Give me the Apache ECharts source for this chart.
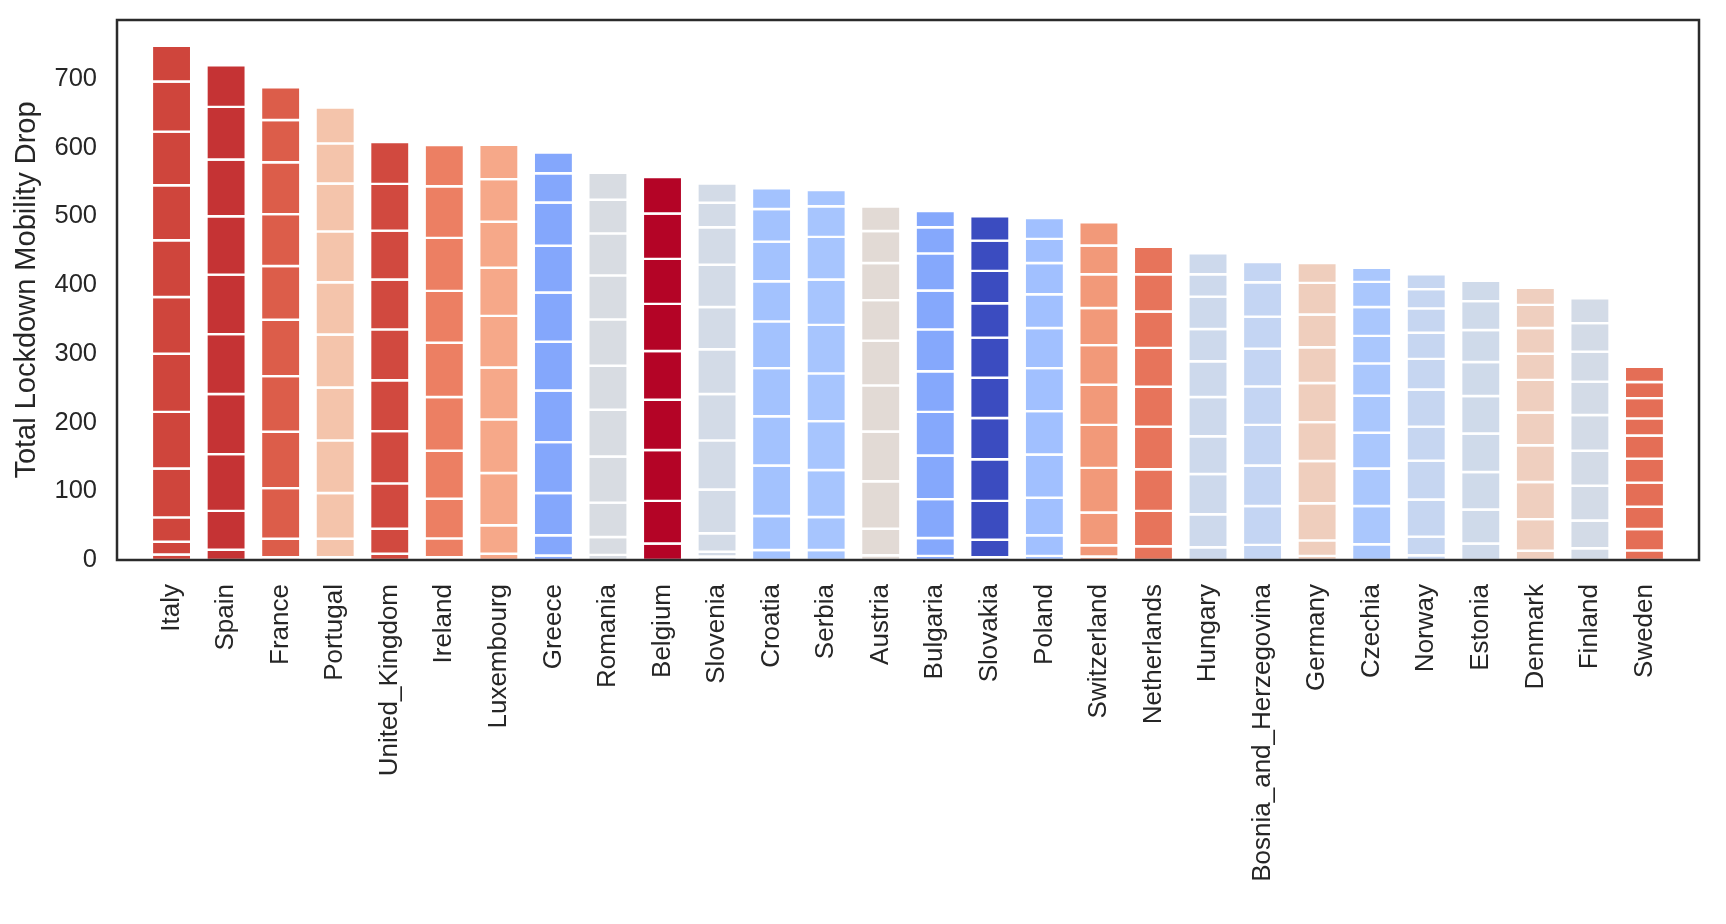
<!DOCTYPE html>
<html>
<head>
<meta charset="utf-8">
<script src="https://cdn.jsdelivr.net/npm/echarts@6/dist/echarts.min.js"></script>
<style>
html,body{margin:0;padding:0;background:#ffffff;}
#chart{width:1726px;height:924px;}
</style>
</head>
<body>
<div id="chart"></div>
<script>
// Countries, in the order shown
const countries = ["Italy","Spain","France","Portugal","United_Kingdom","Ireland","Luxembourg","Greece","Romania","Belgium","Slovenia","Croatia","Serbia","Austria","Bulgaria","Slovakia","Poland","Switzerland","Netherlands","Hungary","Bosnia_and_Herzegovina","Germany","Czechia","Norway","Estonia","Denmark","Finland","Sweden"];

// Bar colours (coolwarm palette)
const barColors = ["#cf453c","#c53334","#dc5d4a","#f4c4ab","#d1493f","#ec7f63","#f6a889","#84a7fc","#d8dce2","#b40426","#d3dbe7","#a3c2fe","#a7c5fe","#e2dad5","#85a8fc","#3b4cc0","#a1c0ff","#f29979","#e7745b","#cdd9ec","#c4d5f3","#efcebd","#aac7fd","#c6d6f1","#cfdaea","#efcfbf","#d3dbe7","#e46e56"];

// Stacked segment values per country, bottom to top
const segItaly       = [8, 18.5, 35.5, 71, 82.5, 84.5, 82.5, 82.5, 80, 78, 73, 52];
const segSpain       = [15, 56.5, 82.5, 87.5, 87, 86.5, 85, 82.5, 76.5, 60.5];
const segFrance      = [4, 27, 73.5, 82, 81, 82, 78, 75.5, 75.5, 61.5, 47.5];
const segPortugal    = [4, 27, 66.5, 76.5, 77, 77, 76, 74, 69.5, 58.5, 52];
const segUK          = [9, 36.5, 66, 76, 74, 74, 72.5, 71, 68, 61];
const segIreland     = [4, 27.5, 57.5, 70, 78, 79, 75.5, 77, 75, 60];
const segLuxembourg  = [9, 41.5, 76, 78, 75.5, 75, 70, 67, 62, 50];
const segGreece      = [6.5, 29.5, 61.5, 74, 75, 71, 71.5, 68, 63, 42.5, 30];
const segRomania     = [7.5, 26, 50, 67, 68, 64, 67.5, 64, 61, 49, 39];
const segBelgium     = [24, 62, 74, 73, 71, 68.5, 65.5, 66, 53];
const segSlovenia    = [5, 7, 27, 63.5, 71.5, 67.5, 65, 61.5, 61.5, 54.5, 35.5, 28];
const segCroatia     = [14.5, 49.5, 73.5, 71.5, 70, 68, 58.5, 57.5, 47.5, 30];
const segSerbia      = [14.5, 48, 68.5, 71, 69.5, 70.5, 66, 62, 44.5, 23.5];
const segAustria     = [7, 38.5, 69, 72.5, 67, 65, 59, 54, 46.5, 35.5];
const segBulgaria    = [6, 26, 56.5, 63.5, 63.5, 59, 61, 56.5, 54, 38, 23.5];
const segSlovakia    = [4, 25.5, 56.5, 60.5, 60, 58.5, 58.5, 50, 47, 44, 35.5];
const segPoland      = [6, 30, 54.5, 63, 63, 62.5, 58.5, 49, 45.5, 35, 30.5];
const segSwitzerland = [5, 16.5, 47.5, 65, 62.5, 58.5, 57.5, 54, 49, 42, 33.5];
const segNetherlands = [20, 51.5, 60.5, 62, 58, 56.5, 53, 54, 40];
const segHungary     = [18.5, 48, 58.5, 55, 57, 52, 47, 47, 32.5, 30.5];
const segBosnia      = [22, 56.5, 59, 59, 56, 55, 46.5, 50, 29.5];
const segGermany     = [6, 22.5, 54, 61.5, 56.5, 57, 52, 47.5, 46, 29];
const segCzechia     = [23, 55.5, 54.5, 52, 54, 47, 40, 42, 36.5, 20.5];
const segNorway      = [7, 27, 54, 56.5, 49.5, 54, 44.5, 38, 35.5, 28, 21.5];
const segEstonia     = [24, 49.5, 54.5, 56, 54.5, 49.5, 46.5, 42, 29.5];
const segDenmark     = [13.5, 46, 54, 53.5, 47.5, 47.5, 38, 37.5, 33.5, 25];
const segFinland     = [17, 40.5, 50.5, 51, 52, 48.5, 43.5, 41.5, 36];
const segSweden      = [14, 31, 32.5, 35, 35, 33.5, 25, 29.5, 23.5, 22];

const segments = [segItaly, segSpain, segFrance, segPortugal, segUK, segIreland, segLuxembourg, segGreece, segRomania, segBelgium, segSlovenia, segCroatia, segSerbia, segAustria, segBulgaria, segSlovakia, segPoland, segSwitzerland, segNetherlands, segHungary, segBosnia, segGermany, segCzechia, segNorway, segEstonia, segDenmark, segFinland, segSweden];

// y-axis tick values
const yTicks = [0, 100, 200, 300, 400, 500, 600, 700];
const yLabel = "Total Lockdown Mobility Drop";

// Build [index, base, top] records (stacking)
const rects = [];
segments.forEach((segs, i) => {
  let base = 0;
  segs.forEach(v => {
    rects.push([i, base, base + v]);
    base += v;
  });
});
const totals = segments.map(s => s.reduce((a, b) => a + b, 0));
const yMax = Math.max(...totals) * 1.05;

const FONT = "'Liberation Sans', Arial, Helvetica, sans-serif";
const TXT = '#262626';

const chart = echarts.init(document.getElementById('chart'), null, {renderer: 'canvas'});
chart.setOption({
  animation: false,
  backgroundColor: '#ffffff',
  grid: {
    left: 117, right: 27, top: 20, bottom: 364,
    show: true, z: 10,
    backgroundColor: 'transparent',
    borderColor: '#2b2b2b', borderWidth: 2.5
  },
  xAxis: {
    type: 'value', min: -1, max: countries.length, interval: 1,
    axisLine: {show: false}, axisTick: {show: false}, splitLine: {show: false},
    axisLabel: {
      rotate: 90, margin: 24, fontSize: 26, color: TXT, fontFamily: FONT,
      showMinLabel: true, showMaxLabel: true, hideOverlap: false,
      formatter: v => (countries[v] !== undefined ? countries[v] : '')
    }
  },
  yAxis: {
    type: 'value', min: 0, max: yMax, interval: 100,
    axisLine: {show: false}, axisTick: {show: false}, splitLine: {show: false},
    axisLabel: {
      margin: 20, fontSize: 25.5, color: TXT, fontFamily: FONT,
      formatter: v => (yTicks.indexOf(v) >= 0 ? String(v) : '')
    },
    name: yLabel, nameLocation: 'middle', nameGap: 76,
    nameTextStyle: {fontSize: 29, color: TXT, fontFamily: FONT}
  },
  series: [{
    type: 'custom',
    silent: true,
    data: rects,
    encode: {x: 0, y: [1, 2]},
    renderItem: (params, api) => {
      const i = api.value(0);
      const p0 = api.coord([i, api.value(1)]);
      const p1 = api.coord([i, api.value(2)]);
      const w = api.size([0.72, 0])[0];
      return {
        type: 'rect',
        shape: {x: p0[0] - w / 2, y: p1[1], width: w, height: p0[1] - p1[1]},
        style: {fill: barColors[i], stroke: '#ffffff', lineWidth: 2.4}
      };
    }
  }]
});
</script>
</body>
</html>
